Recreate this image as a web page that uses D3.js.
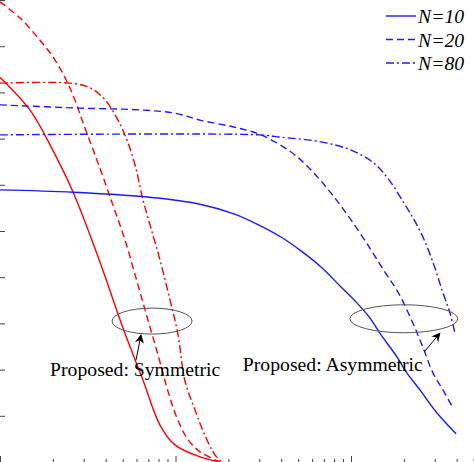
<!DOCTYPE html>
<html>
<head>
<meta charset="utf-8">
<script src="https://cdn.jsdelivr.net/npm/d3@7"></script>
<style>
body { margin: 0; background: #fff; }
svg { display: block; }
</style>
</head>
<body>
<div id="chart"></div>
<script>
const w = 474, h = 462;

// axes (the picture is a crop: no tick labels are visible)
const xDomain = [1, 502];
const yDomain = [0, 1];
const yTicks = [0, 0.1, 0.2, 0.3, 0.4, 0.5, 0.6, 0.7, 0.8, 0.9, 1];

// red: proposed symmetric
const symN10 = [[1, 0.833], [1.48, 0.762], [1.93, 0.686], [2.61, 0.584], [3.71, 0.433],
  [5.02, 0.29], [6.53, 0.177], [8.16, 0.08], [9.93, 0.037], [13.8, 0.011], [17.9, 0]];
const symN20 = [[1, 0.996], [1.3, 0.961], [1.69, 0.913], [2.06, 0.87], [2.5, 0.81], [3.05, 0.723],
  [3.71, 0.636], [4.4, 0.556], [5.15, 0.481], [6.04, 0.39], [6.97, 0.307], [7.95, 0.232],
  [8.95, 0.16], [10.2, 0.095], [11.8, 0.048], [13.8, 0.022], [17.9, 0]];
const symN80 = [[1, 0.82], [2.5, 0.82], [3.26, 0.81], [3.97, 0.784], [4.7, 0.74], [5.29, 0.697],
  [5.88, 0.643], [6.53, 0.567], [7.16, 0.513], [8.16, 0.437], [9.3, 0.351], [10.3, 0.279],
  [11.3, 0.177], [12.9, 0.113], [14.7, 0.058], [16.8, 0.015], [18.4, 0]];

// blue: proposed asymmetric
const asymN10 = [[1, 0.589], [2.61, 0.584], [6.7, 0.574], [13.8, 0.558], [21.5, 0.537], [29.1, 0.515],
  [39.9, 0.487], [51.9, 0.457], [67.5, 0.422], [87.7, 0.379], [107, 0.346], [128, 0.312],
  [146, 0.279], [183, 0.227], [208, 0.193], [247, 0.156], [309, 0.106], [397, 0.061]];
const asymN20 = [[1, 0.773], [2.86, 0.766], [6.28, 0.762], [9.93, 0.755], [13.8, 0.74], [21.5, 0.725],
  [30.7, 0.708], [45.5, 0.671], [59.2, 0.632], [76.9, 0.582], [100, 0.524], [130, 0.459],
  [156, 0.411], [185, 0.368], [225, 0.301], [254, 0.253], [293, 0.193], [334, 0.156], [381, 0.117]];
const asymN80 = [[1, 0.708], [30.3, 0.708], [39.9, 0.703], [67.5, 0.693], [100, 0.675], [135, 0.647],
  [165, 0.61], [200, 0.561], [229, 0.524], [261, 0.481], [297, 0.426], [330, 0.372],
  [366, 0.323], [391, 0.279]];

const legendLabels = ['N=10', 'N=20', 'N=80'];
const annotationText = ['Proposed: Symmetric', 'Proposed: Asymmetric'];
const labelPos = [[1.93, 0.186], [24.2, 0.197]];
const ellipseCenters = [[7.35, 0.305], [200, 0.31]];
const arrows = [[[5.96, 0.221], [6.36, 0.275]], [[261, 0.238], [321, 0.279]]];

const dashes = ['none', '7,4', '8,3,2,3'];

const svg = d3.select('#chart')
  .append('svg')
  .attr('width', w)
  .attr('height', h);

const x = d3.scaleLog().domain(xDomain).range([0, w]);
const y = d3.scaleLinear().domain(yDomain).range([h, 0]);

// left ticks
const yAxis = svg.append('g')
  .call(d3.axisRight(y).tickValues(yTicks).tickSize(5).tickFormat(''));
yAxis.select('.domain').remove();
yAxis.selectAll('line').attr('stroke', '#444');

// bottom ticks, log minor ones shorter
const xAxis = svg.append('g')
  .attr('transform', 'translate(0,' + h + ')')
  .call(d3.axisTop(x).tickSize(3).tickFormat(''));
xAxis.select('.domain').remove();
xAxis.selectAll('.tick line')
  .attr('stroke', '#444')
  .attr('y2', d => Math.abs(Math.log10(d) - Math.round(Math.log10(d))) < 1e-6 ? -6 : -3);

const line = d3.line()
  .x(d => x(d[0]))
  .y(d => y(d[1]))
  .curve(d3.curveCatmullRom.alpha(0.5));

const series = [
  { data: symN10, color: 'red', dash: dashes[0] },
  { data: symN20, color: 'red', dash: dashes[1] },
  { data: symN80, color: 'red', dash: dashes[2] },
  { data: asymN10, color: '#1a1aff', dash: dashes[0] },
  { data: asymN20, color: '#1a1aff', dash: dashes[1] },
  { data: asymN80, color: '#1a1aff', dash: dashes[2] }
];

svg.selectAll('.curve')
  .data(series)
  .enter()
  .append('path')
  .attr('class', 'curve')
  .attr('d', d => line(d.data))
  .attr('fill', 'none')
  .attr('stroke', d => d.color)
  .attr('stroke-width', 1.4)
  .attr('stroke-dasharray', d => d.dash);

// ellipses + arrows
const radii = [[40, 13], [54, 14]];
svg.selectAll('.ring')
  .data(ellipseCenters)
  .enter()
  .append('ellipse')
  .attr('cx', d => x(d[0]))
  .attr('cy', d => y(d[1]))
  .attr('rx', (d, i) => radii[i][0])
  .attr('ry', (d, i) => radii[i][1])
  .attr('fill', 'none')
  .attr('stroke', '#555')
  .attr('stroke-width', 1);

svg.append('defs').append('marker')
  .attr('id', 'head')
  .attr('viewBox', '0 0 10 10')
  .attr('refX', 9).attr('refY', 5)
  .attr('markerWidth', 9).attr('markerHeight', 9)
  .attr('markerUnits', 'userSpaceOnUse')
  .attr('orient', 'auto')
  .append('path')
  .attr('d', 'M0,0 L10,5 L0,10 L3,5 Z')
  .attr('fill', '#000');

svg.selectAll('.arrow')
  .data(arrows)
  .enter()
  .append('line')
  .attr('x1', d => x(d[0][0])).attr('y1', d => y(d[0][1]))
  .attr('x2', d => x(d[1][0])).attr('y2', d => y(d[1][1]))
  .attr('stroke', '#000')
  .attr('stroke-width', 1)
  .attr('marker-end', 'url(#head)');

svg.selectAll('.note')
  .data(annotationText)
  .enter()
  .append('text')
  .attr('x', (d, i) => x(labelPos[i][0]))
  .attr('y', (d, i) => y(labelPos[i][1]))
  .attr('font-family', 'Liberation Serif, Times New Roman, serif')
  .attr('font-size', '19.7px')
  .attr('fill', '#000')
  .text(d => d);

// legend
const legend = svg.append('g').attr('transform', 'translate(386,16)');
const row = legend.selectAll('g')
  .data(legendLabels)
  .enter()
  .append('g')
  .attr('transform', (d, i) => 'translate(0,' + (i * 23.5) + ')');
row.append('line')
  .attr('x1', 0).attr('x2', 30)
  .attr('stroke', '#1a1aff')
  .attr('stroke-width', 1.4)
  .attr('stroke-dasharray', (d, i) => dashes[i]);
row.append('text')
  .attr('x', 32)
  .attr('y', 7)
  .attr('font-family', 'Liberation Serif, Times New Roman, serif')
  .attr('font-style', 'italic')
  .attr('font-size', '19.7px')
  .text(d => d);
</script>
</body>
</html>
